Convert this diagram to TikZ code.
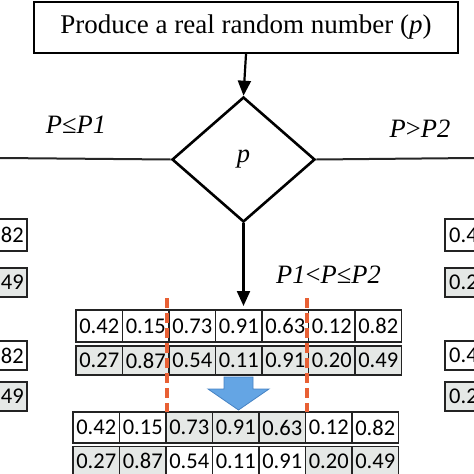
\documentclass[tikz,border=0pt]{standalone}
\usepackage{fontspec}
\setmainfont{Liberation Serif}
\newfontfamily\cellfont{Carlito}
\usetikzlibrary{shapes.geometric,arrows.meta}
\definecolor{shade}{RGB}{229,232,230}
\definecolor{cutred}{RGB}{232,96,52}
\definecolor{bluefill}{RGB}{100,165,228}
\definecolor{blueline}{RGB}{70,130,195}
\definecolor{cellline}{RGB}{35,35,35}
\begin{document}
\begin{tikzpicture}[x=1pt,y=-1pt,
  flowline/.style={line width=2.2pt,black},
  arr/.style={flowline,-{Triangle[length=15pt,width=13pt]}},
  cellfnt/.style={font=\cellfont\fontsize{22.5}{22.5}\selectfont},
  cell/.style={draw=cellline,line width=1.6pt,minimum width=46.5pt,inner sep=0pt,cellfnt},
  rowA/.style={cell,minimum height=32pt},
  rowB/.style={cell,minimum height=29pt},
  grey/.style={fill=shade},
  edge/.style={cellline,line width=1.6pt},
  lbl/.style={font=\fontsize{26.5}{26.5}\selectfont\itshape,inner sep=0pt,anchor=base},
  cutline/.style={cutred,line width=3.5pt,dash pattern=on 10pt off 5pt}]
\useasboundingbox (0,0) rectangle (474,474);
\clip (0,0) rectangle (474,474);

% title box
\node[draw,line width=2.2pt,minimum width=424pt,minimum height=51pt,inner sep=0pt,
  font=\fontsize{27}{27}\selectfont] (box) at (246,27.5) {Produce a real random number (\textit{p})};

% decision diamond
\node[diamond,draw,line width=2.6pt,minimum width=143pt,minimum height=125pt,inner sep=0pt] (dia) at (243.5,159.5) {};
\node[lbl] (pl) at (243.5,162) {p};

\draw[arr] (box.south) -- (dia.north);
\coordinate (tip) at (243.5,306);
\draw[arr] (dia.south) -- (tip);
\coordinate (lend) at (0,158);
\coordinate (rend) at (474,158);
\draw[line width=2pt,black!85] (dia.west) -- (lend);
\draw[line width=2pt,black!85] (dia.east) -- (rend);

\node[lbl] (l1) at (76,133) {P\textup{≤}P1};
\node[lbl] (l2) at (420,137) {P\textup{>}P2};
\node[lbl] (l3) at (328.5,283) {P1\textup{<}P\textup{≤}P2};

% top table
\foreach \v [count=\i] in {0.42,0.15,0.73,0.91,0.63,0.12,0.82}
  \node[rowA] (ta\i) at ({76+46.5*(\i-0.5)},326) {\v};
\foreach \v [count=\i] in {0.27,0.87,0.54,0.11,0.91,0.20,0.49}
  \node[rowB,grey] (tb\i) at ({76+46.5*(\i-0.5)},360.5) {\v};

% bottom table
\foreach \v/\f [count=\i] in {0.42/white,0.15/white,0.73/shade,0.91/shade,0.63/shade,0.12/white,0.82/white}
  \node[cell,minimum height=31pt,fill=\f] (ba\i) at ({73+46.5*(\i-0.5)},427.5) {\v};
\foreach \v/\f [count=\i] in {0.27/shade,0.87/shade,0.54/white,0.11/white,0.91/white,0.20/shade,0.49/shade}
  \node[cell,minimum height=29pt,fill=\f] (bb\i) at ({73+46.5*(\i-0.5)},461) {\v};

% crossover cut lines
\coordinate (c1t) at (167,298);
\coordinate (c1b) at (167,412);
\coordinate (c2t) at (307,298);
\coordinate (c2b) at (307,412);
\draw[cutline] (c1t) -- (c1b);
\draw[cutline] (c2t) -- (c2b);

% blue block arrow
\draw[blueline,fill=bluefill,line width=0.8pt,line join=miter]
  (224,377) -- (253,377) -- (253,389) -- (269,389) -- (238.5,410) -- (208,389) -- (224,389) -- cycle;

% partial cells at the left edge
\draw[edge] (-5,219) rectangle (27,251);
\node[anchor=east,inner sep=1pt,cellfnt] (e1) at (25,235) {82};
\draw[edge,fill=shade] (-5,268) rectangle (27,297);
\node[anchor=east,inner sep=1pt,cellfnt] (e2) at (25,282.5) {49};
\draw[edge] (-5,341) rectangle (27,370);
\node[anchor=east,inner sep=1pt,cellfnt] (e3) at (25,355.5) {82};
\draw[edge,fill=shade] (-5,382) rectangle (27,411);
\node[anchor=east,inner sep=1pt,cellfnt] (e4) at (25,396.5) {49};

% partial cells at the right edge
\draw[edge] (445,219) rectangle (480,251);
\node[anchor=west,inner sep=1pt,cellfnt] (r1) at (448,235) {0.4};
\draw[edge,fill=shade] (445,268) rectangle (480,297);
\node[anchor=west,inner sep=1pt,cellfnt] (r2) at (448,282.5) {0.2};
\draw[edge] (445,341) rectangle (480,370);
\node[anchor=west,inner sep=1pt,cellfnt] (r3) at (448,355.5) {0.4};
\draw[edge,fill=shade] (445,382) rectangle (480,411);
\node[anchor=west,inner sep=1pt,cellfnt] (r4) at (448,396.5) {0.2};
\end{tikzpicture}
\end{document}
